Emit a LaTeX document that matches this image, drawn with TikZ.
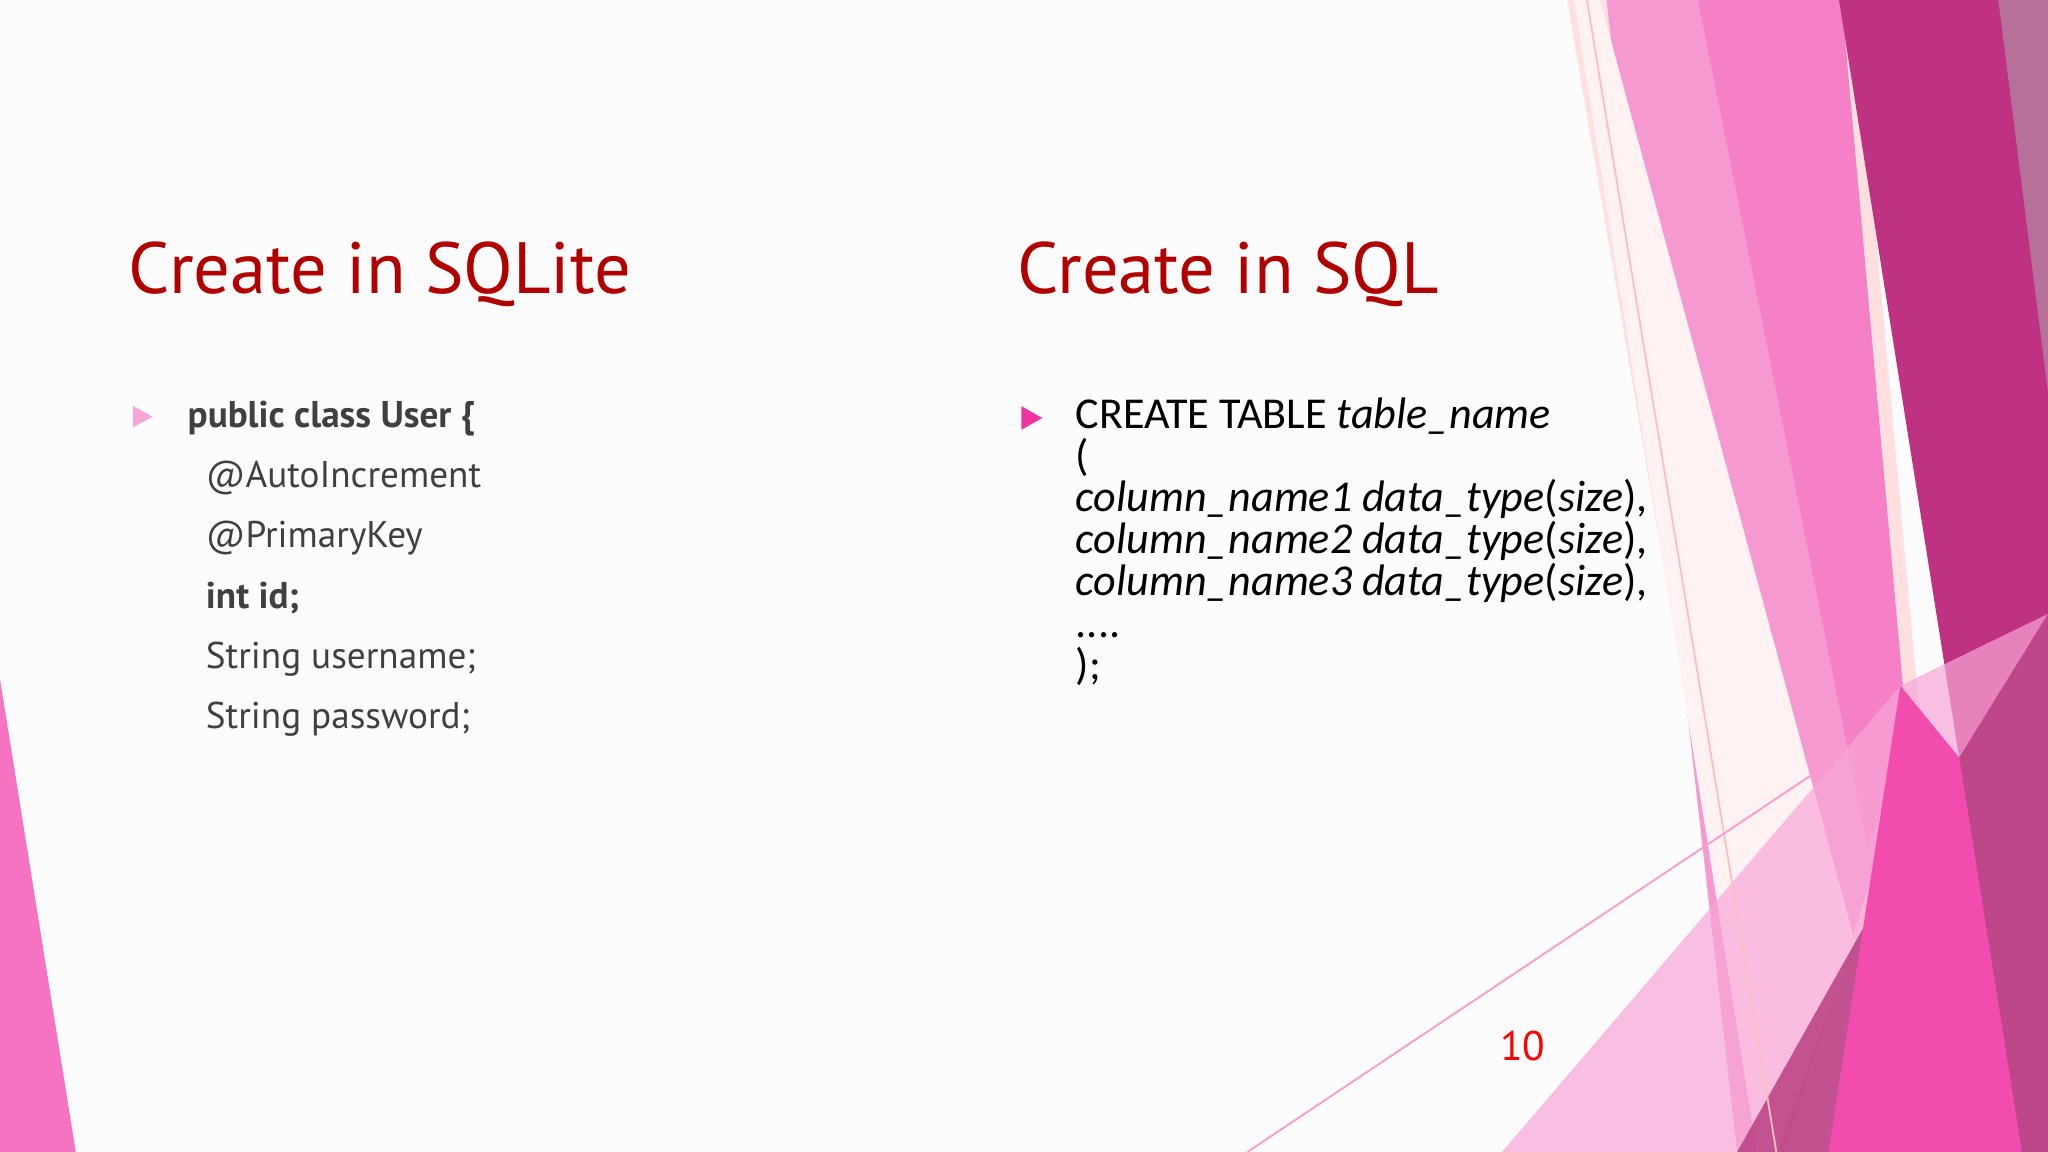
\documentclass[tikz,border=0pt]{standalone}
\usepackage{fontspec}
\setmainfont{PT Sans}
\newfontfamily\sqlfont{Carlito}
\begin{document}
\begin{tikzpicture}[x=0.01cm,y=-0.01cm,
  title/.style={anchor=base west,text=red!70!black,font=\fontsize{15.8}{18}\selectfont,inner sep=0},
  body/.style={anchor=base west,text=black!75,font=\fontsize{8.1}{10}\selectfont,inner sep=0},
  sql/.style={anchor=base west,text=black,font=\sqlfont\fontsize{9.6}{10}\selectfont,inner sep=0,align=left}]
\useasboundingbox (0,0) rectangle (1568,882);
\fill[white!98!gray] (0,0) rectangle (1568,882);
% decoration
\fill[pink!50!white] (1200,0)--(1420,0)--(1500,882)--(1350,882)--cycle;
\fill[magenta!40!white] (1230,0)--(1410,0)--(1440,650)--(1365,882)--(1330,882)--cycle;
\fill[white!80!pink] (1205,0)--(1225,0)--(1420,720)--(1360,882)--(1345,882)--cycle;
\fill[magenta!50!white] (1300,0)--(1410,0)--(1460,560)--(1430,650)--cycle;
\fill[magenta!75!black] (1408,0)--(1568,0)--(1568,882)--(1548,882)--(1500,580)--cycle;
\fill[magenta!55!black!70] (1530,0)--(1568,0)--(1568,300)--cycle;
\fill[magenta!35!white,opacity=0.7] (1150,882)--(1455,525)--(1568,470)--(1568,882)--cycle;
\fill[magenta!70!black,opacity=0.8] (1330,882)--(1500,580)--(1568,470)--(1568,882)--cycle;
\fill[magenta!70!white] (1400,882)--(1455,525)--(1500,580)--(1548,882)--cycle;
\draw[pink,thin] (1215,0)--(1360,882);
\draw[pink!80!magenta,thin] (955,882)--(1410,578);
\fill[magenta!55!white] (0,520)--(58,882)--(0,882)--cycle;
% left column
\node[title] (t1) at (98,225) {Create in SQLite};
\fill[magenta!35!white] (102,311)--(117,319)--(102,327)--cycle;
\node[body,font=\fontsize{8.1}{10}\selectfont\bfseries] (l1) at (143,327) {public class User \{};
\node[body] (l2) at (157,373) {@AutoIncrement};
\node[body] (l3) at (157,419) {@PrimaryKey};
\node[body,font=\fontsize{8.1}{10}\selectfont\bfseries] (l4) at (157,466) {int id;};
\node[body] (l5) at (157,512) {String username;};
\node[body] (l6) at (157,558) {String password;};
% right column
\node[title] (t2) at (778,225) {Create in SQL};
\fill[magenta!80!white] (782,311)--(798,320)--(782,329)--cycle;
\node[sql] (r1) at (823,328) {CREATE TABLE \textit{table\_name}};
\node[sql] (r2) at (823,360) {(};
\node[sql] (r3) at (823,392) {\textit{column\_name1 data\_type}(\textit{size}),};
\node[sql] (r4) at (823,424) {\textit{column\_name2 data\_type}(\textit{size}),};
\node[sql] (r5) at (823,456) {\textit{column\_name3 data\_type}(\textit{size}),};
\node[sql] (r6) at (823,488) {....};
\node[sql] (r7) at (823,520) {);};
\node[anchor=base,text=red,font=\fontsize{9}{10}\selectfont,inner sep=0] (pg) at (1166,812) {10};
\end{tikzpicture}
\end{document}
